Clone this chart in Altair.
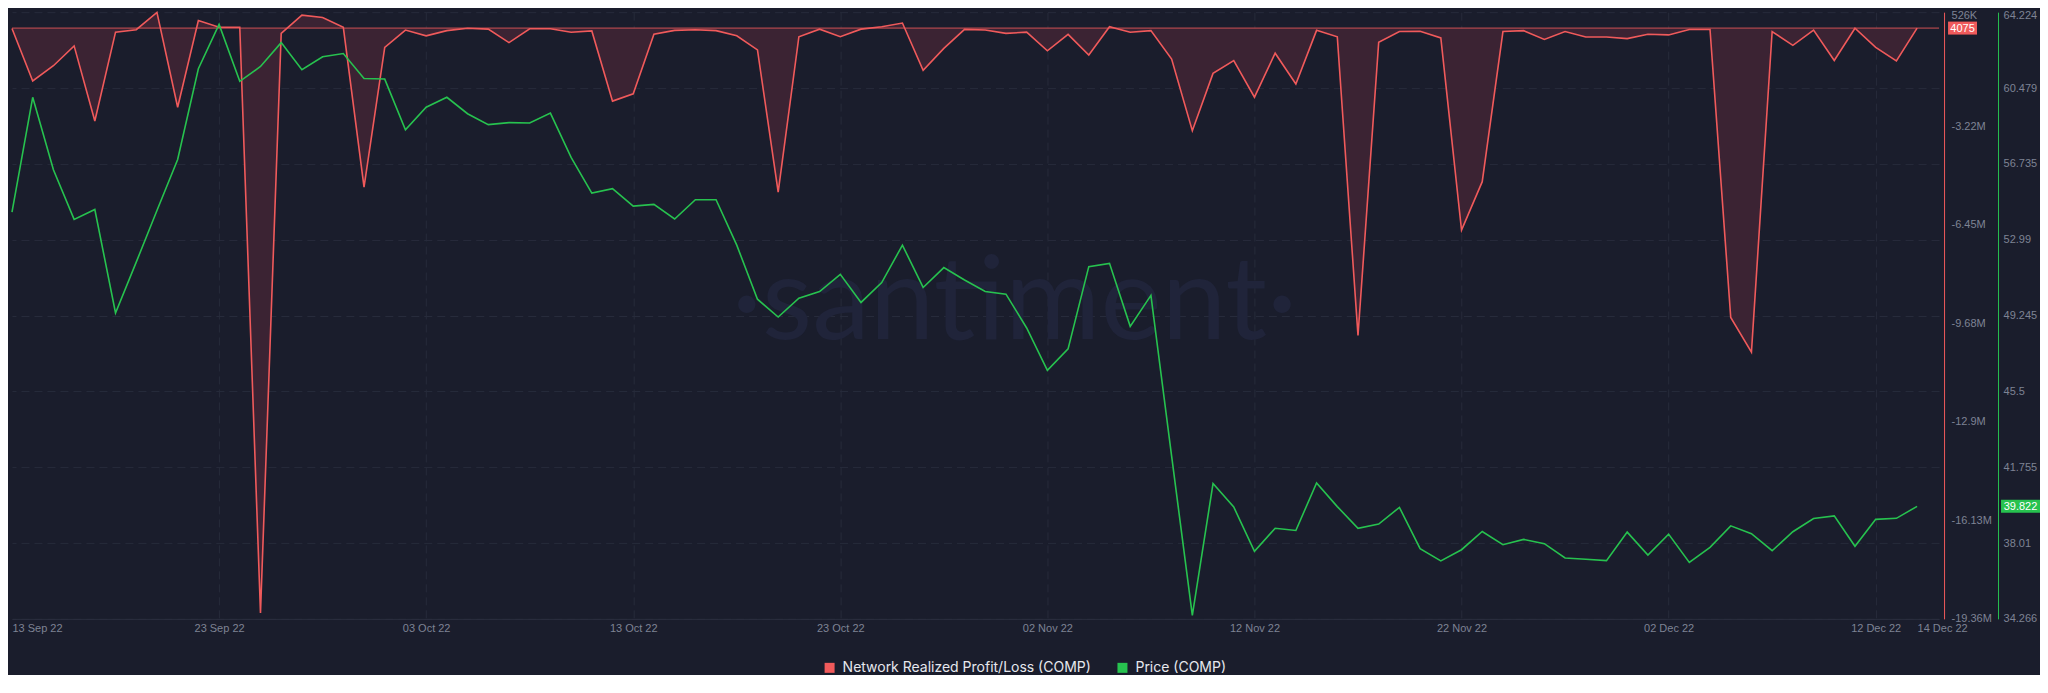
import altair as alt
import pandas as pd

# ---------------- data ----------------
dates = pd.date_range("2022-09-13", "2022-12-14", freq="D")

# Network Realized Profit/Loss (COMP), in millions
nrpl_m = [
    -0.01, -1.73, -1.23, -0.58, -3.04, -0.13, -0.05, 0.52, -2.59, 0.25,
    0.03, 0.03, -19.17, -0.17, 0.43, 0.35, 0.03, -5.21, -0.63, -0.06,
    -0.25, -0.08, 0.0, -0.03, -0.47, -0.02, -0.02, -0.13, -0.09, -2.39,
    -2.15, -0.20, -0.07, -0.05, -0.08, -0.25, -0.71, -5.37, -0.28, -0.03,
    -0.28, -0.03, 0.05, 0.17, -1.38, -0.66, -0.04, -0.06, -0.17, -0.13,
    -0.74, -0.20, -0.88, 0.05, -0.13, -0.08, -1.01, -3.36, -1.48, -1.06,
    -2.26, -0.82, -1.83, -0.07, -0.28, -10.07, -0.46, -0.11, -0.10, -0.32,
    -6.62, -5.03, -0.11, -0.08, -0.37, -0.11, -0.29, -0.29, -0.34, -0.20,
    -0.22, -0.04, -0.04, -9.48, -10.62, -0.11, -0.56, -0.06, -1.06, 0.0,
    -0.63, -1.07, 0.004075,
]

# Price (COMP), USD
price = [
    54.35, 60.02, 56.44, 53.99, 54.48, 49.37, 51.88, 54.43, 56.95, 61.43,
    63.62, 60.81, 61.54, 62.72, 61.38, 62.02, 62.18, 60.95, 60.92, 58.42,
    59.53, 60.02, 59.21, 58.67, 58.77, 58.75, 59.24, 57.05, 55.29, 55.51,
    54.65, 54.73, 54.01, 54.96, 54.96, 52.72, 50.05, 49.17, 50.10, 50.43,
    51.28, 49.89, 50.87, 52.72, 50.63, 51.61, 51.00, 50.43, 50.30, 48.63,
    46.54, 47.60, 51.66, 51.82, 48.71, 50.24, 42.30, 34.44, 40.95, 39.79,
    37.60, 38.74, 38.63, 40.98, 39.81, 38.74, 38.95, 39.77, 37.73, 37.13,
    37.68, 38.58, 37.93, 38.19, 37.98, 37.27, 37.21, 37.14, 38.55, 37.42,
    38.45, 37.05, 37.80, 38.86, 38.47, 37.63, 38.57, 39.22, 39.35, 37.85,
    39.18, 39.23, 39.822,
]

x_tick_days = [0, 10, 20, 30, 40, 50, 60, 70, 80, 90, 92]
x_tick_labels = ["13 Sep 22", "23 Sep 22", "03 Oct 22", "13 Oct 22", "23 Oct 22",
                 "02 Nov 22", "12 Nov 22", "22 Nov 22", "02 Dec 22", "12 Dec 22",
                 "14 Dec 22"]

nrpl_ticks = [526000, -3220000, -6450000, -9680000, -12900000, -16130000, -19360000]
nrpl_tick_labels = ["526K", "-3.22M", "-6.45M", "-9.68M", "-12.9M", "-16.13M", "-19.36M"]
nrpl_domain = [-19360000, 526000]

price_ticks = [64.224, 60.479, 56.735, 52.99, 49.245, 45.5, 41.755, 38.01, 34.266]
price_domain = [34.266, 64.224]

series_names = ["Network Realized Profit/Loss (COMP)", "Price (COMP)"]
watermark = ["\u00b7santiment\u00b7"]

# ---------------- styling ----------------
BG = "#1a1d2c"
GRID = "#272b3b"
RED = "#f05a5b"
RED_FILL = "#3b2333"
GREEN = "#27c24f"
LABEL = "#7e8394"
W, H = 1928, 607

df = pd.DataFrame({
    "day": [(d - dates[0]).days for d in dates],
    "nrpl": [v * 1e6 for v in nrpl_m],
    "price": price,
})
last_r = df.iloc[[-1]].copy()
last_r["series"] = series_names[0]
last_g = df.iloc[[-1]].copy()
last_g["series"] = series_names[1]


def lookup_expr(values, labels):
    expr = "''"
    for v, l in reversed(list(zip(values, labels))):
        expr = f"abs(datum.value - ({v})) < 0.5 ? '{l}' : ({expr})"
    return expr


edge_test = f"datum.value == {x_tick_days[0]} || datum.value == {x_tick_days[-1]}"
x_axis = alt.Axis(
    values=x_tick_days, labelExpr=lookup_expr(x_tick_days, x_tick_labels), title=None,
    grid=True, gridColor=GRID, gridDash=[8, 5], gridWidth=1,
    gridOpacity={"condition": {"test": edge_test, "value": 0}, "value": 1},
    ticks=False, domain=True, domainColor="#2a2e3e",
    labelColor=LABEL, labelFont="Liberation Sans", labelFontSize=11, labelPadding=4,
    labelAlign={"condition": {"test": edge_test, "value": "left"}, "value": "center"},
    labelFlush=False, labelOverlap=False, labelBound=False,
)
x_enc = alt.X("day:Q", axis=x_axis,
              scale=alt.Scale(domain=[0, 93.06], nice=False, zero=False))


def top_cond(top, a, b):
    return {"condition": {"test": f"datum.value == {top}", "value": a}, "value": b}


nrpl_axis = alt.Axis(
    orient="right", offset=5, values=nrpl_ticks,
    labelExpr=lookup_expr(nrpl_ticks, nrpl_tick_labels), title=None,
    grid=False, ticks=False, domain=True, domainColor=RED, domainWidth=1,
    labelColor=LABEL, labelFont="Liberation Sans", labelFontSize=11, labelPadding=7,
    labelBaseline=top_cond(nrpl_domain[1], "top", "middle"),
    labelOffset=top_cond(nrpl_domain[1], -3, 0),
    labelFlush=False, labelOverlap=False, labelBound=False,
)
nrpl_y = alt.Y("nrpl:Q", axis=nrpl_axis,
               scale=alt.Scale(domain=nrpl_domain, nice=False, zero=False))

price_axis = alt.Axis(
    orient="right", offset=59, values=price_ticks, format=".6~r", title=None,
    grid=True, gridColor=GRID, gridDash=[8, 5], gridWidth=1,
    ticks=False, domain=True, domainColor=GREEN, domainWidth=1,
    labelColor=LABEL, labelFont="Liberation Sans", labelFontSize=11, labelPadding=5,
    labelBaseline=top_cond(price_domain[1], "top", "middle"),
    labelOffset=top_cond(price_domain[1], -3, 0),
    labelFlush=False, labelOverlap=False, labelBound=False,
)
price_y = alt.Y("price:Q", axis=price_axis,
                scale=alt.Scale(domain=price_domain, nice=False, zero=False))

legend = alt.Legend(
    orient="none", legendX=811, legendY=649, direction="horizontal", title=None,
    symbolType="square", symbolSize=100, symbolStrokeWidth=0, symbolOpacity=1,
    labelColor="#e6e8ee", labelFont="Inter", labelFontSize=14, labelOffset=6,
    labelLimit=500, columnPadding=24, padding=0,
)
color_enc = alt.Color("series:N", scale=alt.Scale(domain=series_names, range=[RED, GREEN]),
                      legend=legend)

# ---------------- watermark ----------------
wm = alt.Chart(pd.DataFrame({"t": watermark})).mark_text(
    font="Lato", fontSize=116, color="#20243a",
    align="center", baseline="alphabetic",
).encode(x=alt.value(1003), y=alt.value(327), text="t:N")

# ---------------- NRPL group ----------------
base_r = alt.Chart(df)
area = base_r.mark_area(color=RED_FILL, opacity=1, interpolate="linear").encode(
    x=x_enc, y=nrpl_y, y2=alt.datum(0))
rline = base_r.mark_line(color=RED, strokeWidth=1.6).encode(x=x_enc, y=nrpl_y)
rrule = alt.Chart(last_r).mark_rule(color=RED, strokeWidth=1, opacity=0.85).encode(y=nrpl_y)
rbox = alt.Chart(last_r).mark_point(
    shape="M-1,-0.448L1,-0.448L1,0.448L-1,0.448Z", size=841, filled=True, opacity=1,
    strokeWidth=0,
).encode(x=alt.value(1951.5), y=nrpl_y, color=color_enc)
rtext = alt.Chart(last_r).mark_text(
    color="white", font="Liberation Sans", fontSize=11, align="center", baseline="middle", dy=0.5,
).encode(x=alt.value(1951.5), y=nrpl_y, text=alt.Text("nrpl:Q", format="d"))
red_group = alt.layer(area, rrule, rline, rbox, rtext)

# ---------------- Price group ----------------
gline = alt.Chart(df).mark_line(color=GREEN, strokeWidth=1.6).encode(x=x_enc, y=price_y)
gbox = alt.Chart(last_g).mark_point(
    shape="M-1,-0.333L1,-0.333L1,0.333L-1,0.333Z", size=1521, filled=True, opacity=1,
    strokeWidth=0,
).encode(x=alt.value(2009.5), y=price_y, color=color_enc)
gtext = alt.Chart(last_g).mark_text(
    color="white", font="Liberation Sans", fontSize=11, align="center", baseline="middle", dy=0.5,
).encode(x=alt.value(2009.5), y=price_y, text=alt.Text("price:Q", format=".3f"))
green_group = alt.layer(gline, gbox, gtext)

chart = alt.layer(wm, red_group, green_group).resolve_scale(
    y="independent"
).properties(
    width=W, height=H, padding=0, background=BG,
).configure_view(stroke=None)

chart.save("out.html", embed_options={"renderer": "svg", "actions": False})
